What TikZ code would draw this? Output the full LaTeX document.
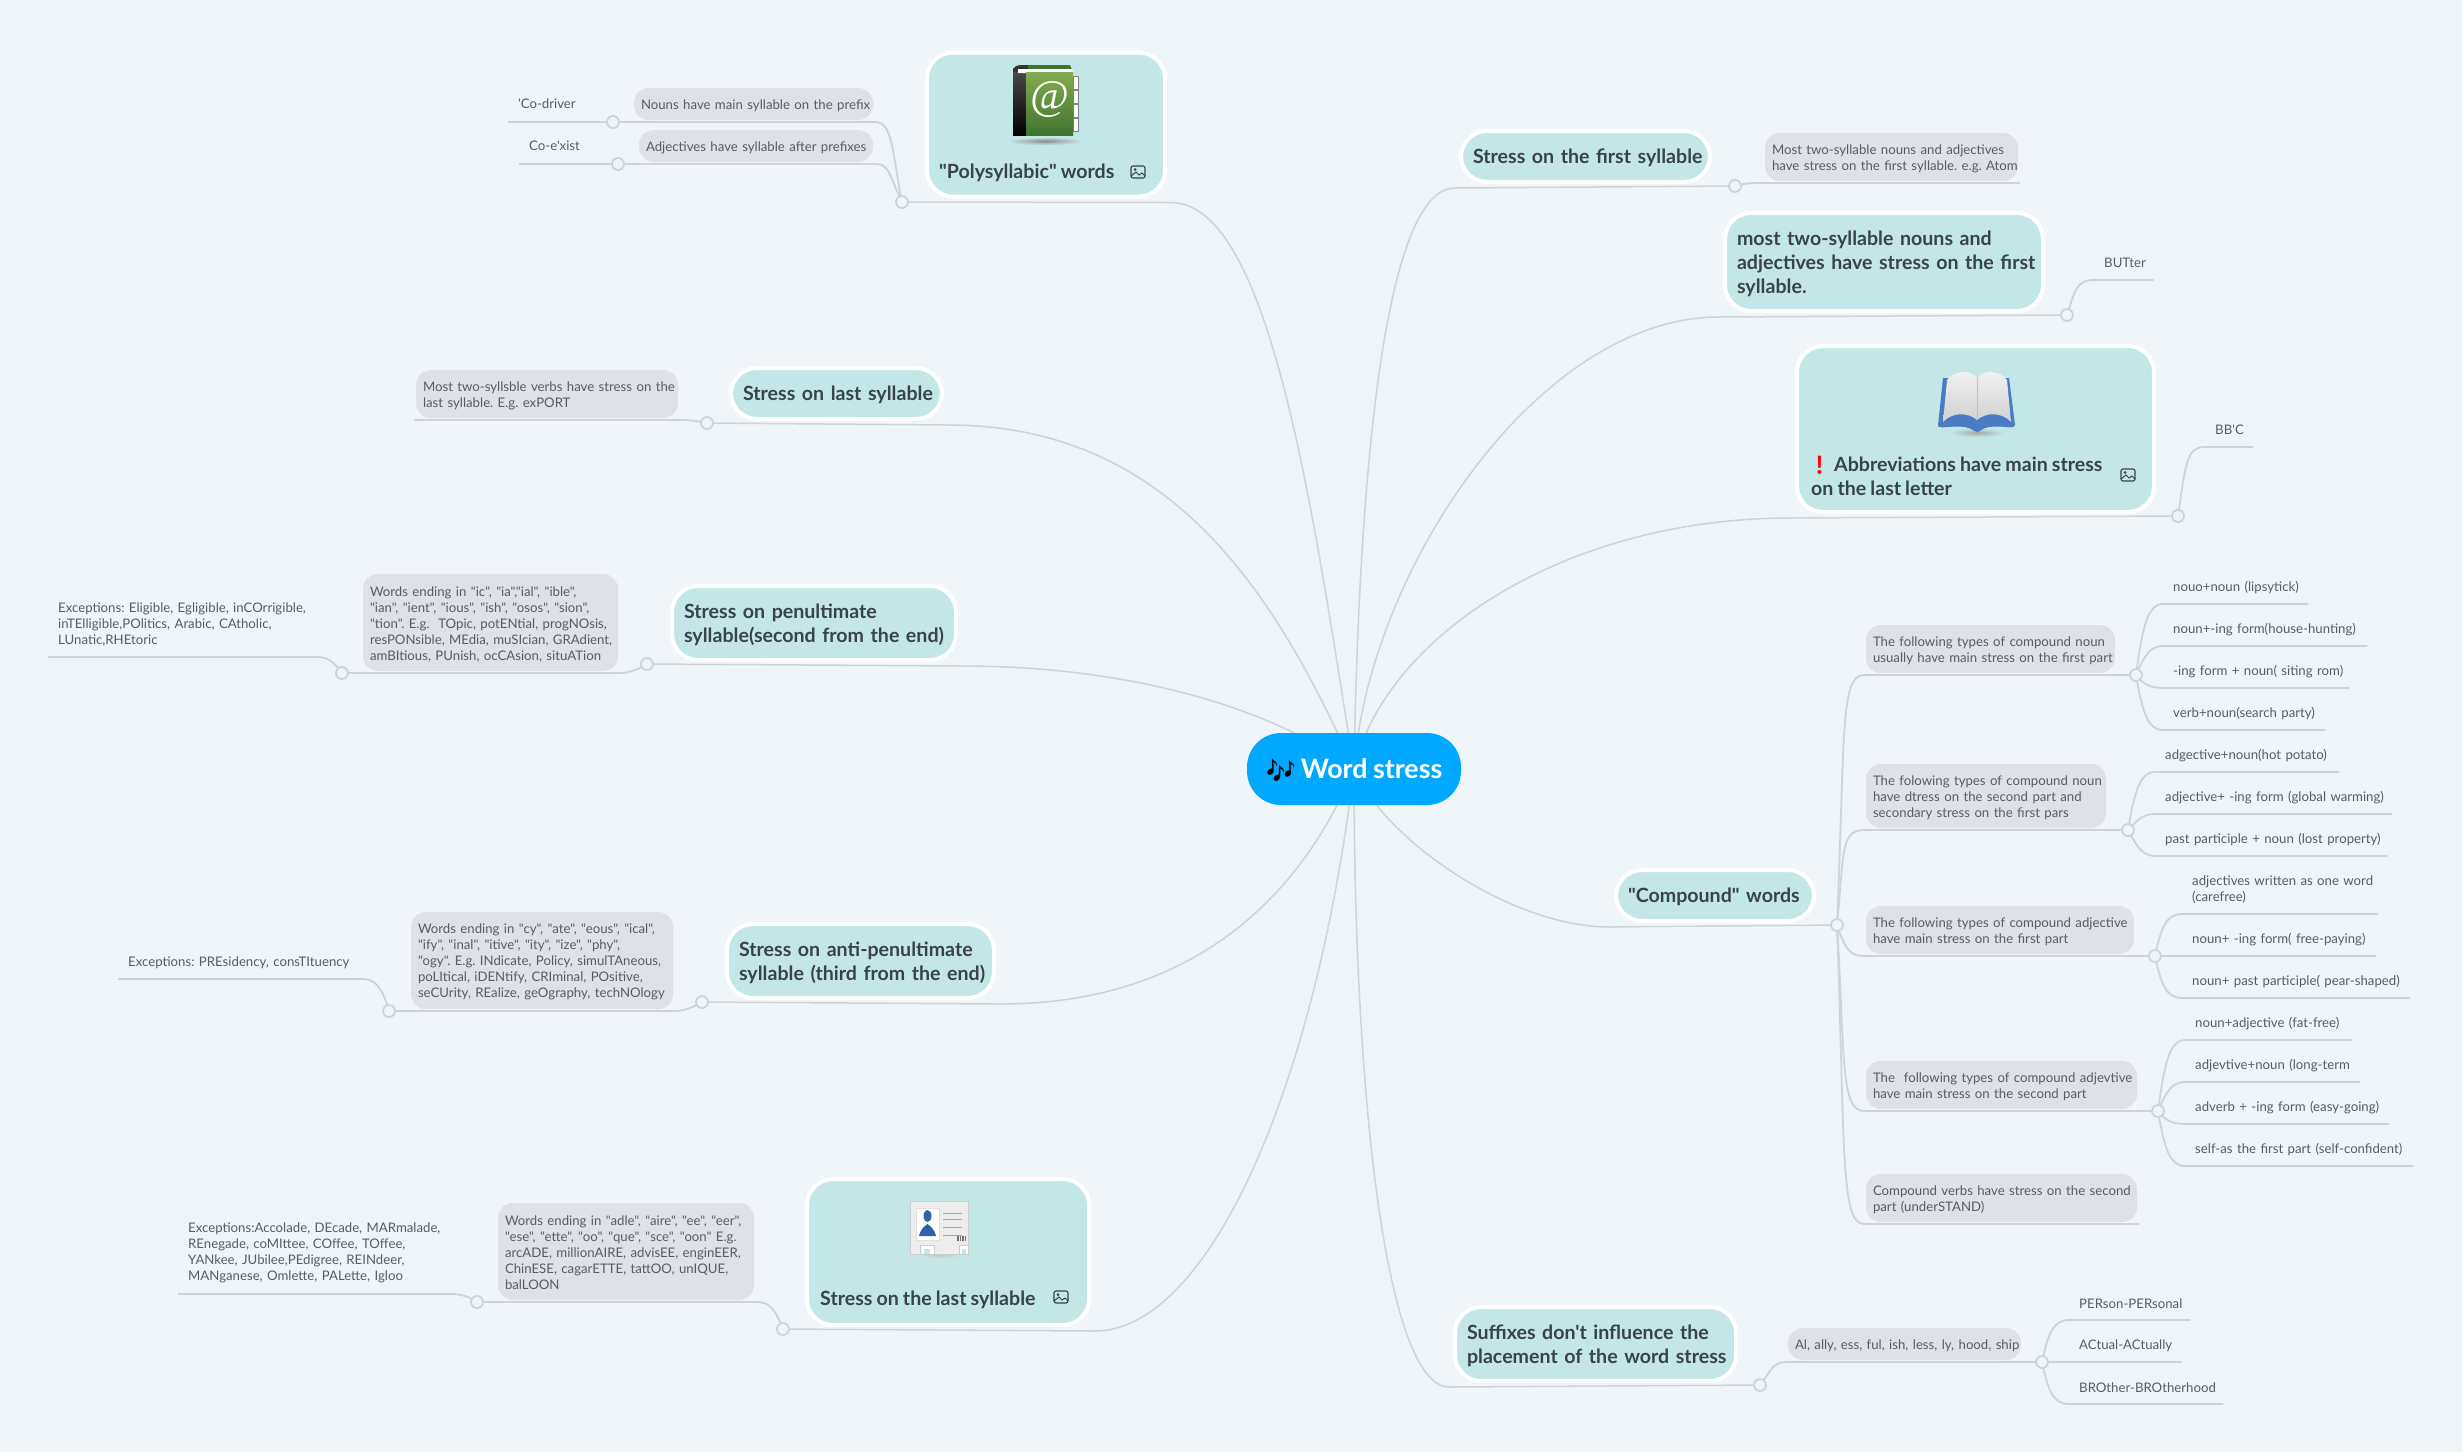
\documentclass[tikz,border=0pt]{standalone}
\usepackage{fontspec}
\setmainfont[Ligatures=TeXOff,WordSpace=0.85]{Lato}
\newfontfamily\emojifont{Noto Emoji}
\newfontfamily\atfont{Liberation Serif}
\usepackage{tikz}
\definecolor{pagebg}{HTML}{F0F5F9}
\definecolor{rootblue}{HTML}{00A9FF}
\definecolor{topicfill}{HTML}{C3E7E6}
\definecolor{pillfill}{HTML}{DEE2E6}
\definecolor{linkgray}{HTML}{CFD4D8}
\definecolor{inkdark}{HTML}{3A424A}
\definecolor{inkbody}{HTML}{565D64}
\definecolor{booklight}{HTML}{82AC4F}
\definecolor{bookdark}{HTML}{3F7430}
\definecolor{bookblue}{HTML}{4A7CC4}
\definecolor{cardblue}{HTML}{2F62A8}
\pgfdeclarelayer{links}
\pgfsetlayers{links,main}
\tikzset{
  link/.style={draw=linkgray,line width=1.8pt},
  rootlink/.style={draw=linkgray,line width=1.5pt},
  root/.style={fill=rootblue,rounded corners=34,minimum width=214,minimum height=72,inner sep=0pt,text=white,font=\fontsize{26.8}{30}\selectfont\bfseries},
  topic/.style 2 args={fill=topicfill,draw=white,line width=4pt,rounded corners=26,outer sep=6pt,inner sep=0pt,minimum width=#1,minimum height=#2,text width=#1pt,align=left,execute at begin node={\leftskip=12pt\rule{0pt}{18pt}},text=inkdark,font=\fontsize{19.6}{24}\selectfont\bfseries},
  topictitle/.style={anchor=west,inner sep=0pt,text=inkdark,align=left,font=\fontsize{19.6}{24}\selectfont\bfseries},
  pill/.style 2 args={fill=pillfill,rounded corners=15,outer sep=2pt,inner sep=0pt,anchor=south west,minimum width=#1,minimum height=#2,text width=#1pt,align=left,execute at begin node={\leftskip=7pt\rule{0pt}{13pt}},text=inkbody,font=\fontsize{13.2}{16}\selectfont},
  leaf/.style={anchor=south west,inner sep=0pt,minimum width=#1,minimum height=36,text width=#1pt,align=left,execute at begin node={\leftskip=10pt\rule{0pt}{13pt}},text=inkbody,font=\fontsize{13.2}{16}\selectfont},
  joint/.style={circle,draw=linkgray,fill=pagebg,line width=1.8pt,inner sep=0pt,minimum size=12},
  imgicon/.pic={
    \draw[inkdark,line width=1.1pt,rounded corners=2] (-7,-6) rectangle (7,6);
    \fill[inkdark] (-3,-2.5) circle (1.5);
    \draw[inkdark,line width=1pt] (-7,4) -- (-2,0) -- (1,3) -- (4,1) -- (7,4);
  }
}
\begin{document}
\frenchspacing
\begin{tikzpicture}[x=1pt,y=-1pt]
\useasboundingbox (0,0) rectangle (2462,1452);
\node[root] (root) at (1354,769) {\rule{0pt}{22pt}{\color{black}\emojifont\fontsize{24}{30}\selectfont 🎶}\hspace{-1pt} Word stress};

\node[topic={238}{144}] (poly) at (1046,124.5) {};
\node[topictitle] (polytitle) at (939,172.5) {"Polysyllabic" words};
\node[topic={211}{51}] (lastsyl) at (836.5,393.5) {Stress on last syllable};
\node[topic={284}{74}] (penult) at (814,623) {Stress on penultimate\\syllable(second from the end)};
\node[topic={267}{74}] (anti) at (860.5,961) {Stress on anti-penultimate\\syllable (third from the end)};
\node[topic={282}{146}] (idcard) at (948,1252) {};
\node[topictitle] (idtitle) at (820,1299.5) {Stress on the last syllable};
\node[topic={249}{51}] (first) at (1585.5,156.5) {Stress on the first syllable};
\node[topic={318}{98}] (two) at (1884,262) {most two-syllable nouns and\\adjectives have stress on the first\\syllable.};
\node[topic={357}{166}] (abbr) at (1975.5,429) {};
\node[topictitle] (abbrtitle) at (1811,475.5) {\makebox[23pt][l]{\hspace{-3pt}\emojifont\color{red}\fontsize{18}{24}\selectfont ❗}Abbreviations have main stress\\on the last letter};
\node[topic={198}{51}] (comp) at (1715,895.5) {"Compound" words};
\node[topic={281}{74}] (suff) at (1595.5,1344) {Suffixes don't influence the\\placement of the word stress};

\node[joint] (polyj) at (902,202) {};
\node[joint] (lastj) at (707,423) {};
\node[joint] (penj) at (647,664) {};
\node[joint] (antij) at (702,1002) {};
\node[joint] (idj) at (783,1329) {};
\node[joint] (firstj) at (1735,186) {};
\node[joint] (twoj) at (2067,315) {};
\node[joint] (abbrj) at (2178,516) {};
\node[joint] (compj) at (1837,925) {};
\node[joint] (suffj) at (1760,1385) {};

\node[pill={239}{32}] (nouns) at (632,122) {Nouns have main syllable on the prefix};
\node[pill={234}{32}] (adjs) at (637,164) {Adjectives have syllable after prefixes};
\node[joint] (nounsj) at (613,122) {};
\node[joint] (adjsj) at (618,164) {};
\node[leaf=94,minimum height=40] (codriver) at (508,122) {'Co-driver};
\node[leaf=88,minimum height=40] (coexist) at (519,164) {Co-e'xist};

\node[pill={262}{48}] (lastp) at (414,420) {Most two-syllsble verbs have stress on the\\last syllable. E.g. exPORT};

\node[pill={255}{97}] (penp) at (361,673) {Words ending in "ic", "ia","ial", "ible",\\"ian", "ient", "ious", "ish", "osos", "sion",\\"tion". E.g.~ TOpic, potENtial, progNOsis,\\resPONsible, MEdia, muSIcian, GRAdient,\\amBItious, PUnish, ocCAsion, situATion};
\node[joint] (penpj) at (342,673) {};
\node[leaf=266,minimum height=68] (penx) at (48,657) {Exceptions: Eligible, Egligible, inCOrrigible,\\inTElligible,POlitics, Arabic, CAtholic,\\LUnatic,RHEtoric};

\node[pill={262}{97}] (antip) at (409,1011) {Words ending in "cy", "ate", "eous", "ical",\\"ify", "inal", "itive", "ity", "ize", "phy",\\"ogy". E.g. INdicate, Policy, simulTAneous,\\poLItical, iDENtify, CRIminal, POsitive,\\seCUrity, REalize, geOgraphy, techNOlogy};
\node[joint] (antipj) at (389,1011) {};
\node[leaf=245] (antix) at (118,979) {Exceptions: PREsidency, consTItuency};

\node[pill={256}{97}] (idp) at (496,1302) {Words ending in "adle", "aire", "ee", "eer",\\"ese", "ette", "oo", "que", "sce", "oon" E.g.\\arcADE, millionAIRE, advisEE, enginEER,\\ChinESE, cagarETTE, tattOO, unIQUE,\\balLOON};
\node[joint] (idpj) at (477,1302) {};
\node[leaf=273,minimum height=85] (idx) at (178,1294) {Exceptions:Accolade, DEcade, MARmalade,\\REnegade, coMIttee, COffee, TOffee,\\YANkee, JUbilee,PEdigree, REINdeer,\\MANganese, Omlette, PALette, Igloo};

\node[pill={253}{48}] (firstp) at (1763,183) {Most two-syllable nouns and adjectives\\have stress on the first syllable. e.g. Atom};
\node[leaf=59,minimum height=38] (butter) at (2094,280) {BUTter};
\node[leaf=48,minimum height=38] (bbc) at (2205,447) {BB'C};

\node[pill={249}{48}] (c1p) at (1864,675) {The following types of compound noun\\usually have main stress on the first part};
\node[joint] (c1j) at (2136,675) {};
\node[leaf=145] (n1) at (2163,604) {nouo+noun (lipsytick)};
\node[leaf=204] (n2) at (2163,646) {noun+-ing form(house-hunting)};
\node[leaf=186] (n3) at (2163,688) {-ing form + noun( siting rom)};
\node[leaf=162] (n4) at (2163,730) {verb+noun(search party)};

\node[pill={240}{64}] (c2p) at (1864,830) {The folowing types of compound noun\\have dtress on the second part and\\secondary stress on the first pars};
\node[joint] (c2j) at (2128,830) {};
\node[leaf=184] (a1) at (2155,772) {adgective+noun(hot potato)};
\node[leaf=237] (a2) at (2155,814) {adjective+ -ing form (global warming)};
\node[leaf=232] (a3) at (2155,856) {past participle + noun (lost property)};

\node[pill={268}{48}] (c3p) at (1864,956) {The following types of compound adjective\\have main stress on the first part};
\node[joint] (c3j) at (2155,956) {};
\node[leaf=196,minimum height=51] (b1) at (2182,914) {adjectives written as one word\\(carefree)};
\node[leaf=194] (b2) at (2182,956) {noun+ -ing form( free-paying)};
\node[leaf=228] (b3) at (2182,998) {noun+ past participle( pear-shaped)};

\node[pill={271}{48}] (c4p) at (1864,1111) {The~ following types of compound adjevtive\\have main stress on the second part};
\node[joint] (c4j) at (2158,1111) {};
\node[leaf=167] (d1) at (2185,1040) {noun+adjective (fat-free)};
\node[leaf=175] (d2) at (2185,1082) {adjevtive+noun (long-term};
\node[leaf=204] (d3) at (2185,1124) {adverb + -ing form (easy-going)};
\node[leaf=228] (d4) at (2185,1166) {self-as the first part (self-confident)};

\node[pill={271}{48}] (c5p) at (1864,1224) {Compound verbs have stress on the second\\part (underSTAND)};

\node[pill={233}{32}] (suffp) at (1786,1362) {Al, ally, ess, ful, ish, less, ly, hood, ship};
\node[joint] (suffpj) at (2042,1362) {};
\node[leaf=121] (s1) at (2069,1320) {PERson-PERsonal};
\node[leaf=113] (s2) at (2069,1362) {ACtual-ACtually};
\node[leaf=154] (s3) at (2069,1404) {BROther-BROtherhood};

\begin{pgfonlayer}{links}
\fill[pagebg] (0,0) rectangle (2462,1452);
\draw[rootlink] (root.center) .. controls +(-40,-250) and +(100,0) .. (poly.south east) -- (polyj);
\draw[rootlink] (root.center) .. controls +(-80,-180) and +(220,0) .. (lastsyl.south east) -- (lastj);
\draw[rootlink] (root.center) .. controls +(-80,-60) and +(170,0) .. (penult.south east) -- (penj);
\draw[rootlink] (root.center) .. controls +(-50,120) and +(200,0) .. (anti.south east) -- (antij);
\draw[rootlink] (root.center) .. controls +(-40,330) and +(110,0) .. (idcard.south east) -- (idj);
\draw[rootlink] (root.center) .. controls +(5,-300) and +(-70,0) .. (first.south west) -- (firstj);
\draw[rootlink] (root.center) .. controls +(15,-200) and +(-180,0) .. (two.south west) -- (twoj);
\draw[rootlink] (root.center) .. controls +(30,-130) and +(-230,0) .. (abbr.south west) -- (abbrj);
\draw[rootlink] (root.center) .. controls +(30,70) and +(-100,0) .. (comp.south west) -- (compj);
\draw[rootlink] (root.center) .. controls +(0,350) and +(-60,0) .. (suff.south west) -- (suffj);

\draw[link] (polyj.center) .. controls +(-14,-30) and +(14,0) .. (adjs.south east) -- (adjsj);
\draw[link] (polyj.center) .. controls +(-10,-50) and +(18,0) .. (nouns.south east) -- (nounsj);
\draw[link] (nounsj) -- (codriver.south west);
\draw[link] (adjsj) -- (coexist.south west);

\draw[link] (lastj.center) .. controls +(-10,-2) and +(10,0) .. (lastp.south east) -- (lastp.south west);
\draw[link] (penj.center) .. controls +(-10,6) and +(8,0) .. (penp.south east) -- (penpj);
\draw[link] (penpj.center) .. controls +(-10,-14) and +(12,0) .. (penx.south east) -- (penx.south west);
\draw[link] (antij.center) .. controls +(-10,6) and +(8,0) .. (antip.south east) -- (antipj);
\draw[link] (antipj.center) .. controls +(-6,-22) and +(12,0) .. (antix.south east) -- (antix.south west);
\draw[link] (idj.center) .. controls +(-8,-20) and +(14,0) .. (idp.south east) -- (idpj);
\draw[link] (idpj.center) .. controls +(-8,-6) and +(8,0) .. (idx.south east) -- (idx.south west);

\draw[link] (firstj.center) .. controls +(10,-3) and +(-10,0) .. (firstp.south west) -- (firstp.south east);
\draw[link] (twoj.center) .. controls +(8,-24) and +(-18,0) .. (butter.south west) -- (butter.south east);
\draw[link] (abbrj.center) .. controls +(8,-55) and +(-18,0) .. (bbc.south west) -- (bbc.south east);

\draw[link] (compj.center) .. controls +(8,-190) and +(-24,0) .. (c1p.south west) -- (c1j);
\draw[link] (compj.center) .. controls +(7,-70) and +(-24,0) .. (c2p.south west) -- (c2j);
\draw[link] (compj.center) .. controls +(8,24) and +(-14,0) .. (c3p.south west) -- (c3j);
\draw[link] (compj.center) .. controls +(8,130) and +(-24,0) .. (c4p.south west) -- (c4j);
\draw[link] (compj.center) .. controls +(8,220) and +(-24,0) .. (c5p.south west) -- (c5p.south east);

\draw[link] (c1j.center) .. controls +(6,-45) and +(-16,0) .. (n1.south west) -- (n1.south east);
\draw[link] (c1j.center) .. controls +(8,-18) and +(-14,0) .. (n2.south west) -- (n2.south east);
\draw[link] (c1j.center) .. controls +(6,8) and +(-14,0) .. (n3.south west) -- (n3.south east);
\draw[link] (c1j.center) .. controls +(6,35) and +(-16,0) .. (n4.south west) -- (n4.south east);
\draw[link] (c2j.center) .. controls +(6,-35) and +(-16,0) .. (a1.south west) -- (a1.south east);
\draw[link] (c2j.center) .. controls +(8,-8) and +(-14,0) .. (a2.south west) -- (a2.south east);
\draw[link] (c2j.center) .. controls +(8,14) and +(-14,0) .. (a3.south west) -- (a3.south east);
\draw[link] (c3j.center) .. controls +(6,-28) and +(-16,0) .. (b1.south west) -- (b1.south east);
\draw[link] (c3j) -- (b2.south west) -- (b2.south east);
\draw[link] (c3j.center) .. controls +(6,28) and +(-16,0) .. (b3.south west) -- (b3.south east);
\draw[link] (c4j.center) .. controls +(6,-45) and +(-16,0) .. (d1.south west) -- (d1.south east);
\draw[link] (c4j.center) .. controls +(8,-18) and +(-14,0) .. (d2.south west) -- (d2.south east);
\draw[link] (c4j.center) .. controls +(6,8) and +(-14,0) .. (d3.south west) -- (d3.south east);
\draw[link] (c4j.center) .. controls +(6,35) and +(-16,0) .. (d4.south west) -- (d4.south east);

\draw[link] (suffj.center) .. controls +(10,-12) and +(-14,0) .. (suffp.south west) -- (suffp.south east) -- (suffpj);
\draw[link] (suffpj.center) .. controls +(6,-28) and +(-16,0) .. (s1.south west) -- (s1.south east);
\draw[link] (suffpj) -- (s2.south west) -- (s2.south east);
\draw[link] (suffpj.center) .. controls +(6,28) and +(-16,0) .. (s3.south west) -- (s3.south east);
\end{pgfonlayer}

\pic at (1138,172) {imgicon};
\pic at (1061,1297) {imgicon};
\pic at (2128,475) {imgicon};

\shade[inner color=black!45,outer color=topicfill] (1008,137) rectangle (1082,145);
\shade[top color=black!70,bottom color=black] (1013,68) rectangle (1027,135);
\fill[black!80] (1013,72) .. controls (1013,67) and (1016,65) .. (1022,65) -- (1030,65) -- (1030,72) -- cycle;
\fill[bookdark] (1028,65) -- (1070,65) -- (1072,70) -- (1028,70) -- cycle;
\fill[white] (1018,69) -- (1072,69) -- (1073,73) -- (1018,73) -- cycle;
\foreach \tabtop in {76,90,104,118}
  \draw[gray,fill=white,line width=.6pt] (1073,\tabtop) rectangle (1078,\tabtop+13);
\shade[top color=booklight,bottom color=bookdark] (1026,72) rectangle (1073,135);
\node[text=white,inner sep=0pt,font=\atfont\itshape\fontsize{42}{42}\selectfont] (at) at (1050,99) {@};

\shade[inner color=black!35,outer color=topicfill] (1950,428) rectangle (2004,437);
\fill[bookblue] (1943,378) -- (1938,425) .. controls (1938,430) and (1950,425) .. (1965,427) .. controls (1972,428) and (1974,432) .. (1977,432) .. controls (1980,432) and (1982,428) .. (1989,427) .. controls (2004,425) and (2015,430) .. (2015,425) -- (2009,378) -- cycle;
\shade[top color=white!95!black,bottom color=black!18] (1947,380) .. controls (1952,372) and (1970,368) .. (1977,378) -- (1977,420) .. controls (1968,412) and (1952,412) .. (1943,422) -- cycle;
\shade[top color=white!95!black,bottom color=black!18] (2007,380) .. controls (2002,372) and (1984,368) .. (1977,378) -- (1977,420) .. controls (1986,412) and (2002,412) .. (2011,422) -- cycle;
\draw[black!25,line width=.6pt] (1977,378) -- (1977,420);

\shade[inner color=black!25,outer color=topicfill] (918,1250) rectangle (962,1258);
\fill[black!7,draw=black!20,line width=.5pt] (910,1201) rectangle (968,1254);
\fill[white,draw=black!12,line width=.4pt] (916,1208) rectangle (939,1240);
\fill[cardblue] (927.5,1216) ellipse (4 and 6);
\fill[cardblue] (919,1236) .. controls (921,1228) and (925,1226) .. (927.5,1224) .. controls (930,1226) and (934,1228) .. (936,1236) -- cycle;
\foreach \tinyline in {1213,1219,1227,1235}
  \draw[black!35,line width=.5pt] (943,\tinyline) -- (962,\tinyline);
\foreach \barx in {957,958.5,960,962,963.5,965}
  \draw[black!55,line width=.6pt] (\barx,1236) -- (\barx,1241);
\fill[white,draw=black!20,line width=.4pt] (920,1245) rectangle (934,1254);
\fill[white,draw=black!20,line width=.4pt] (959,1245) rectangle (968,1254);
\fill[topicfill] (924,1249) rectangle (930,1254);
\fill[topicfill] (962,1249) rectangle (966,1254);
\end{tikzpicture}
\end{document}
